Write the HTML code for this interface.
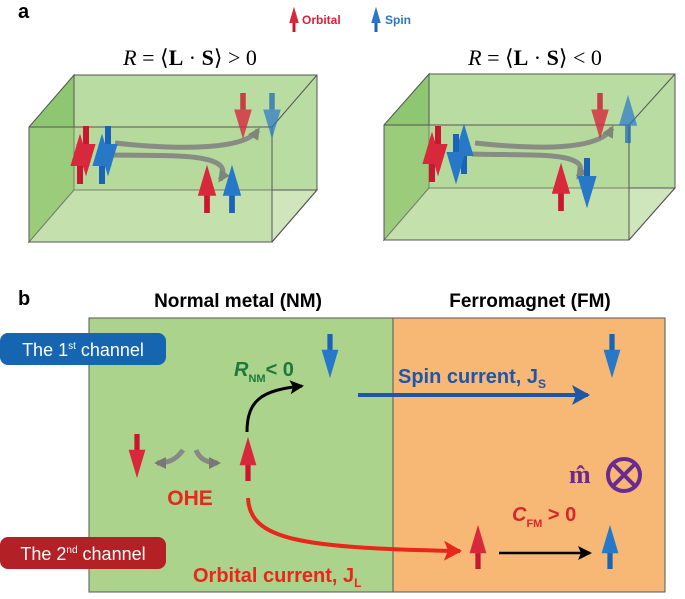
<!DOCTYPE html>
<html><head><meta charset="utf-8"><style>
body{margin:0;background:#fff}
svg{display:block}
.s{font-family:"Liberation Sans",sans-serif}
.r{font-family:"Liberation Serif",serif}
</style></head><body>
<svg width="685" height="599" viewBox="0 0 685 599" xmlns="http://www.w3.org/2000/svg">
<defs>
<marker id="bl" markerWidth="20" markerHeight="20" refX="16" refY="10" orient="auto" markerUnits="userSpaceOnUse"><path d="M0,0 L18,10 L0,20 L4,10Z" fill="#1f56a8"/></marker>
<marker id="rd" markerWidth="20" markerHeight="20" refX="16" refY="10" orient="auto" markerUnits="userSpaceOnUse"><path d="M0,0 L18,10 L0,20 L4,10Z" fill="#e8261c"/></marker>
<marker id="bk2" markerWidth="14" markerHeight="14" refX="12" refY="7" orient="auto" markerUnits="userSpaceOnUse"><path d="M0,0 L14,7 L0,14 L3,7Z" fill="#000"/></marker>
<marker id="gr" markerWidth="12" markerHeight="12" refX="9" refY="6" orient="auto" markerUnits="userSpaceOnUse"><path d="M0,0 L12,6 L0,12Z" fill="#777"/></marker>
<g id="ru"><rect x="-2.5" y="-10" width="5" height="30" fill="#c8182f"/><path d="M-8,5 L0,-22 L8,5Z" fill="#d8283c"/></g>
<g id="bu"><rect x="-2.5" y="-10" width="5" height="30" fill="#1b63b4"/><path d="M-8,5 L0,-22 L8,5Z" fill="#2878c8"/></g>
</defs>
<!-- panel a -->
<text x="18" y="18" class="s" font-weight="bold" font-size="20">a</text>
<use href="#ru" transform="translate(294,20) scale(0.6)"/>
<text x="302" y="24" class="s" font-weight="bold" font-size="12" fill="#e0203a">Orbital</text>
<use href="#bu" transform="translate(376,20) scale(0.6)"/>
<text x="385" y="24" class="s" font-weight="bold" font-size="12" fill="#2878c8">Spin</text>
<text x="190" y="65" text-anchor="middle" class="r" font-size="22"><tspan font-style="italic">R</tspan> = ⟨<tspan font-weight="bold">L</tspan> · <tspan font-weight="bold">S</tspan>⟩ &gt; 0</text>
<text x="535" y="65" text-anchor="middle" class="r" font-size="22"><tspan font-style="italic">R</tspan> = ⟨<tspan font-weight="bold">L</tspan> · <tspan font-weight="bold">S</tspan>⟩ &lt; 0</text>
<g stroke="#555" stroke-width="1">
<polygon points="29,127 74,75 74,190 29,242" fill="#8fc672"/>
<polygon points="74,75 317,75 317,190 74,190" fill="#b9dca2"/>
<polygon points="29,242 74,190 317,190 272,242" fill="#cfe6bd"/>
<rect x="29" y="127" width="243" height="115" fill="#aed68f" fill-opacity="0.35"/>
<line x1="272" y1="127" x2="317" y2="75"/><line x1="272" y1="242" x2="317" y2="190"/>
</g>
<g stroke="#808080" stroke-width="5" fill="none" opacity="0.85">
<path d="M115,143 C180,150 245,150 258,130" marker-end="url(#gr)"/>
<path d="M112,155 C170,156 238,152 220,180" marker-end="url(#gr)"/>
</g>
<use href="#ru" transform="translate(80,160) scale(1.2)"/>
<use href="#ru" transform="translate(86,150) scale(1.2) rotate(180)"/>
<use href="#bu" transform="translate(108,150) scale(1.2) rotate(180)"/>
<use href="#bu" transform="translate(102,160) scale(1.2)"/>
<use href="#ru" transform="translate(243,115) scale(1.1) rotate(180)" opacity="0.8"/>
<use href="#bu" transform="translate(272,115) scale(1.1) rotate(180)" opacity="0.7"/>
<use href="#ru" transform="translate(207,190) scale(1.15)"/>
<use href="#bu" transform="translate(232,190) scale(1.15)"/>
<g stroke="#555" stroke-width="1">
<polygon points="384,125 429,74 429,188 384,240" fill="#8fc672"/>
<polygon points="429,74 675,74 675,188 429,188" fill="#b9dca2"/>
<polygon points="384,240 429,188 675,188 629,240" fill="#cfe6bd"/>
<rect x="384" y="125" width="245" height="115" fill="#aed68f" fill-opacity="0.35"/>
<line x1="629" y1="125" x2="675" y2="74"/><line x1="629" y1="240" x2="675" y2="188"/>
</g>
<g stroke="#808080" stroke-width="5" fill="none" opacity="0.85">
<path d="M475,143 C540,150 600,150 612,128" marker-end="url(#gr)"/>
<path d="M472,154 C530,156 595,150 578,177" marker-end="url(#gr)"/>
</g>
<use href="#ru" transform="translate(432,158) scale(1.2)"/>
<use href="#ru" transform="translate(438,150) scale(1.2) rotate(180)"/>
<use href="#bu" transform="translate(464,150) scale(1.2)"/>
<use href="#bu" transform="translate(456,158) scale(1.2) rotate(180)"/>
<use href="#ru" transform="translate(600,115) scale(1.1) rotate(180)" opacity="0.8"/>
<use href="#bu" transform="translate(628,120) scale(1.15)" opacity="0.7"/>
<use href="#ru" transform="translate(561,188) scale(1.15)"/>
<use href="#bu" transform="translate(587,182) scale(1.2) rotate(180)"/>
<!-- panel b -->
<text x="18" y="305" class="s" font-weight="bold" font-size="20">b</text>
<text x="238" y="307" text-anchor="middle" class="s" font-weight="bold" font-size="19">Normal metal (NM)</text>
<text x="530" y="307" text-anchor="middle" class="s" font-weight="bold" font-size="19">Ferromagnet (FM)</text>
<rect x="89" y="318" width="304" height="274" fill="#acd38b" stroke="#555"/>
<rect x="393" y="318" width="272" height="274" fill="#f6b874" stroke="#555"/>
<rect x="0" y="333" width="166" height="32" rx="8" fill="#1565b0"/>
<text x="83" y="356" text-anchor="middle" class="s" font-size="18" fill="#fff">The 1<tspan font-size="10" dy="-7">st</tspan><tspan dy="7"> channel</tspan></text>
<rect x="0" y="537" width="166" height="32" rx="8" fill="#b32127"/>
<text x="83" y="560" text-anchor="middle" class="s" font-size="18" fill="#fff">The 2<tspan font-size="10" dy="-7">nd</tspan><tspan dy="7"> channel</tspan></text>
<text x="234" y="376" class="s" font-weight="bold" font-size="20" fill="#1b7a3a"><tspan font-style="italic">R</tspan><tspan font-size="11" dy="6">NM</tspan><tspan dy="-6">&lt; 0</tspan></text>
<path d="M247,432 C247,400 262,390 302,386" stroke="#000" stroke-width="3" fill="none" marker-end="url(#bk2)"/>
<use href="#bu" transform="translate(330,355) scale(1.05) rotate(180)"/>
<text x="398" y="383" class="s" font-weight="bold" font-size="20" fill="#1f56a8">Spin current, J<tspan font-size="12" dy="5">S</tspan></text>
<line x1="358" y1="395" x2="588" y2="395" stroke="#1f56a8" stroke-width="4" marker-end="url(#bl)"/>
<use href="#bu" transform="translate(612,355) scale(1.05) rotate(180)"/>
<text x="569" y="483" class="r" font-weight="bold" font-size="26" fill="#6a2a8e">m̂</text>
<circle cx="624" cy="475" r="16" fill="none" stroke="#6a2a8e" stroke-width="4"/>
<path d="M614,465 L634,485 M634,465 L614,485" stroke="#6a2a8e" stroke-width="4"/>
<use href="#ru" transform="translate(137,455) scale(1.05) rotate(180)"/>
<path d="M183,450 C176,460 168,463 157,463" stroke="#888" stroke-width="5" fill="none" marker-end="url(#gr)"/>
<path d="M196,450 C200,460 208,463 218,463" stroke="#888" stroke-width="5" fill="none" marker-end="url(#gr)"/>
<use href="#ru" transform="translate(248,460) scale(1.05)"/>
<text x="190" y="505" text-anchor="middle" class="s" font-weight="bold" font-size="21" fill="#e8261c">OHE</text>
<path d="M248,498 C250,540 300,548 460,551" stroke="#e8261c" stroke-width="4" fill="none" marker-end="url(#rd)"/>
<text x="193" y="582" class="s" font-weight="bold" font-size="20" fill="#e8261c">Orbital current, J<tspan font-size="12" dy="5">L</tspan></text>
<use href="#ru" transform="translate(478,548) scale(1.05)"/>
<text x="512" y="521" class="s" font-weight="bold" font-size="20" fill="#d8262c"><tspan font-style="italic">C</tspan><tspan font-size="11" dy="6">FM</tspan><tspan dy="-6"> &gt; 0</tspan></text>
<line x1="499" y1="553" x2="590" y2="553" stroke="#000" stroke-width="2.5" marker-end="url(#bk2)"/>
<use href="#bu" transform="translate(610,548) scale(1.05)"/>
</svg>
</body></html>
